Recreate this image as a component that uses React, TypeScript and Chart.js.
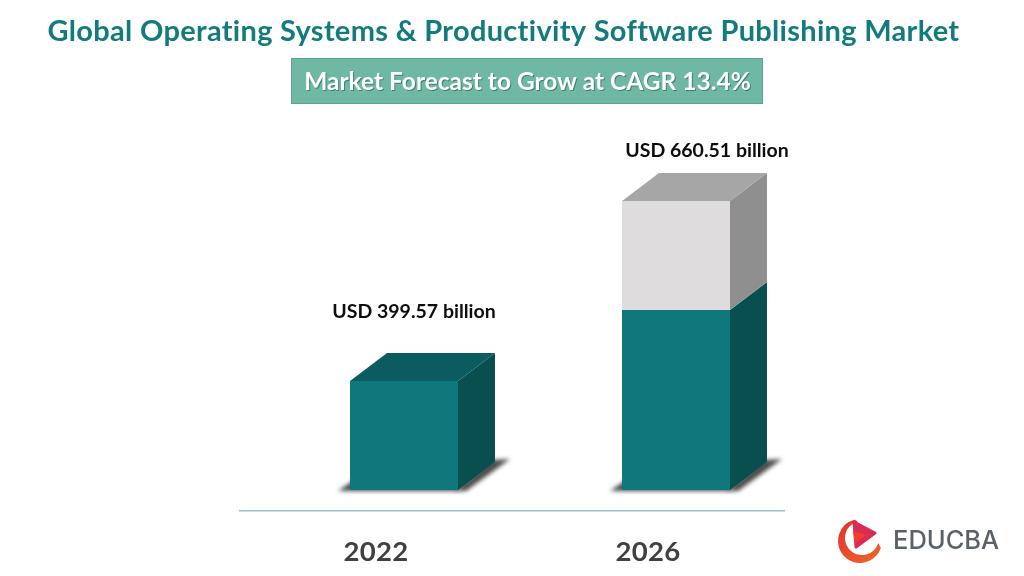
import React, { useEffect, useRef } from "react";
import { Chart, registerables } from "chart.js";

Chart.register(...registerables);

const titleText = "Global Operating Systems & Productivity Software Publishing Market";
const bannerText = "Market Forecast to Grow at CAGR 13.4%";
const categories = ["2022", "2026"];
const marketValues = [399.57, 660.51];
const upperValues = [null, 399.57];
const logoText = "EDUCBA";

const DX = 37;
const DY = -28;
const labelNudges = [
  { x: 10, y: -69.5 },
  { x: 31, y: -50.5 },
];

function poly(ctx: CanvasRenderingContext2D, pts: number[][], fill: string) {
  ctx.beginPath();
  pts.forEach((p, i) => (i ? ctx.lineTo(p[0], p[1]) : ctx.moveTo(p[0], p[1])));
  ctx.closePath();
  ctx.fillStyle = fill;
  ctx.fill();
}

const faces = [
  { side: "#0a4f50", top: "#0b5c60" },
  { side: "#8f8f8f", top: "#a6a6a6" },
];

const cubePlugin = {
  id: "cube",
  beforeDraw(chart: any) {
    chart.ctx.letterSpacing = "0.3px";
  },
  beforeDatasetsDraw(chart: any) {
    const ctx = chart.ctx;
    ctx.letterSpacing = "0px";
    const meta = chart.getDatasetMeta(1);
    ctx.save();
    meta.data.forEach((bar: any) => {
      const l = bar.x - bar.width / 2;
      const r = bar.x + bar.width / 2;
      const b = bar.base;
      ctx.filter = "blur(2px)";
      poly(ctx, [[r - 4, b + 1], [r + 34, b - 30], [r + 52, b - 31], [r + 8, b + 1]], "#4a4a4a");
      poly(ctx, [[l - 12, b + 1], [l + 4, b - 10], [r, b - 6], [r, b + 1]], "#4a4a4a");
    });
    ctx.restore();
  },
  afterDatasetsDraw(chart: any) {
    const ctx = chart.ctx;
    const metas = [chart.getDatasetMeta(1), chart.getDatasetMeta(2)];
    ctx.save();
    categories.forEach((_, i) => {
      let topY = Infinity;
      let topX = 0;
      let topW = 0;
      let topFace = 0;
      metas.forEach((m: any, k: number) => {
        const bar = m.data[i];
        const raw = chart.data.datasets[k + 1].data[i];
        if (raw == null) return;
        const r = bar.x + bar.width / 2;
        poly(ctx, [[r, bar.y], [r + DX, bar.y + DY], [r + DX, bar.base + DY], [r, bar.base]], faces[k].side);
        if (bar.y < topY) {
          topY = bar.y;
          topX = bar.x;
          topW = bar.width;
          topFace = k;
        }
      });
      const l = topX - topW / 2;
      const r = topX + topW / 2;
      poly(ctx, [[l, topY], [l + DX, topY + DY], [r + DX, topY + DY], [r, topY]], faces[topFace].top);

      ctx.font = "bold 19.5px Lato";
      ctx.fillStyle = "#0d0d0d";
      ctx.textAlign = "center";
      ctx.textBaseline = "middle";
      ctx.fillText(`USD ${marketValues[i]} billion`, topX + labelNudges[i].x, topY + labelNudges[i].y);
    });
    ctx.restore();
  },
};

const decorPlugin = {
  id: "decor",
  afterDraw(chart: any) {
    const ctx = chart.ctx;
    ctx.save();
    // banner
    ctx.fillStyle = "#6fb8a3";
    ctx.strokeStyle = "#5e9f98";
    ctx.lineWidth = 1;
    ctx.fillRect(291.5, 58.5, 471, 45);
    ctx.strokeRect(291.5, 58.5, 471, 45);
    ctx.font = "bold 24.5px Lato";
    ctx.textAlign = "center";
    ctx.textBaseline = "middle";
    ctx.fillStyle = "#3f7f72";
    ctx.fillText(bannerText, 528.5, 83.5);
    ctx.fillStyle = "#ffffff";
    ctx.fillText(bannerText, 527.5, 82.5);

    // logo
    const g = ctx.createLinearGradient(840, 520, 880, 565);
    g.addColorStop(0, "#e0322f");
    g.addColorStop(1, "#f2672a");
    ctx.beginPath();
    ctx.arc(860, 541, 22, 0.1 * Math.PI, 1.42 * Math.PI);
    ctx.arc(862, 538, 17, 1.42 * Math.PI, 0.1 * Math.PI, true);
    ctx.closePath();
    ctx.fillStyle = g;
    ctx.fill();
    ctx.beginPath();
    ctx.moveTo(854, 522);
    ctx.lineTo(875, 533);
    ctx.lineTo(856, 547);
    ctx.closePath();
    ctx.lineJoin = "round";
    ctx.lineWidth = 3;
    ctx.strokeStyle = "#d92c55";
    ctx.fillStyle = "#d92c55";
    ctx.stroke();
    ctx.fill();
    poly(ctx, [[853, 531], [866, 535], [855, 543]], "#ee3f2d");
    ctx.font = "500 25.5px Inter";
    ctx.textAlign = "left";
    ctx.textBaseline = "middle";
    ctx.fillStyle = "#5a6169";
    ctx.fillText(logoText, 893, 541);
    ctx.restore();
  },
};

export default function App() {
  const ref = useRef<HTMLCanvasElement>(null);
  useEffect(() => {
    const chart = new Chart(ref.current!, {
      type: "bar",
      data: {
        labels: categories,
        datasets: [
          { label: "spacer", data: [], stack: "spacer" },
          { label: "Market", data: marketValues, stack: "main", backgroundColor: "#0f787d" },
          { label: "Upper", data: upperValues, stack: "main", backgroundColor: "#dfdcdd" },
        ],
      } as any,
      options: {
        animation: false,
        responsive: false,
        devicePixelRatio: 1,
        categoryPercentage: 112 / 272,
        barPercentage: 108 / 56,
        layout: { padding: { right: 17 } },
        plugins: {
          legend: { display: false },
          tooltip: { enabled: false },
          title: {
            display: true,
            text: titleText,
            color: "#137b7d",
            font: { family: "Lato", size: 29, weight: "bold" },
            padding: { top: 14, bottom: 51 },
          },
        },
        scales: {
          x: {
            stacked: true,
            afterFit: (s: any) => {
              s.height = 65;
            },
            grid: { display: false, drawTicks: false },
            border: { display: true, color: "#8fc3cc", width: 1.5 },
            ticks: {
              padding: 25,
              color: "#404040",
              font: { family: "Lato", size: 27.5, weight: "bold" },
            },
          },
          y: {
            stacked: true,
            min: -77,
            max: 1431,
            afterFit: (s: any) => {
              s.width = 240;
            },
            ticks: { display: false },
            grid: { display: false, drawTicks: false },
            border: { display: false },
          },
          yRight: {
            position: "right",
            min: -77,
            max: 1431,
            afterFit: (s: any) => {
              s.width = 223;
            },
            ticks: { display: false },
            grid: { display: false, drawTicks: false },
            border: { display: false },
          },
        },
      } as any,
      plugins: [cubePlugin, decorPlugin],
    } as any);
    return () => chart.destroy();
  }, []);
  return (
    <div style={{ position: "fixed", left: 0, top: 0, width: 1024, height: 576, background: "#fff" }}>
      <canvas ref={ref} width={1024} height={576} style={{ display: "block" }} />
    </div>
  );
}
